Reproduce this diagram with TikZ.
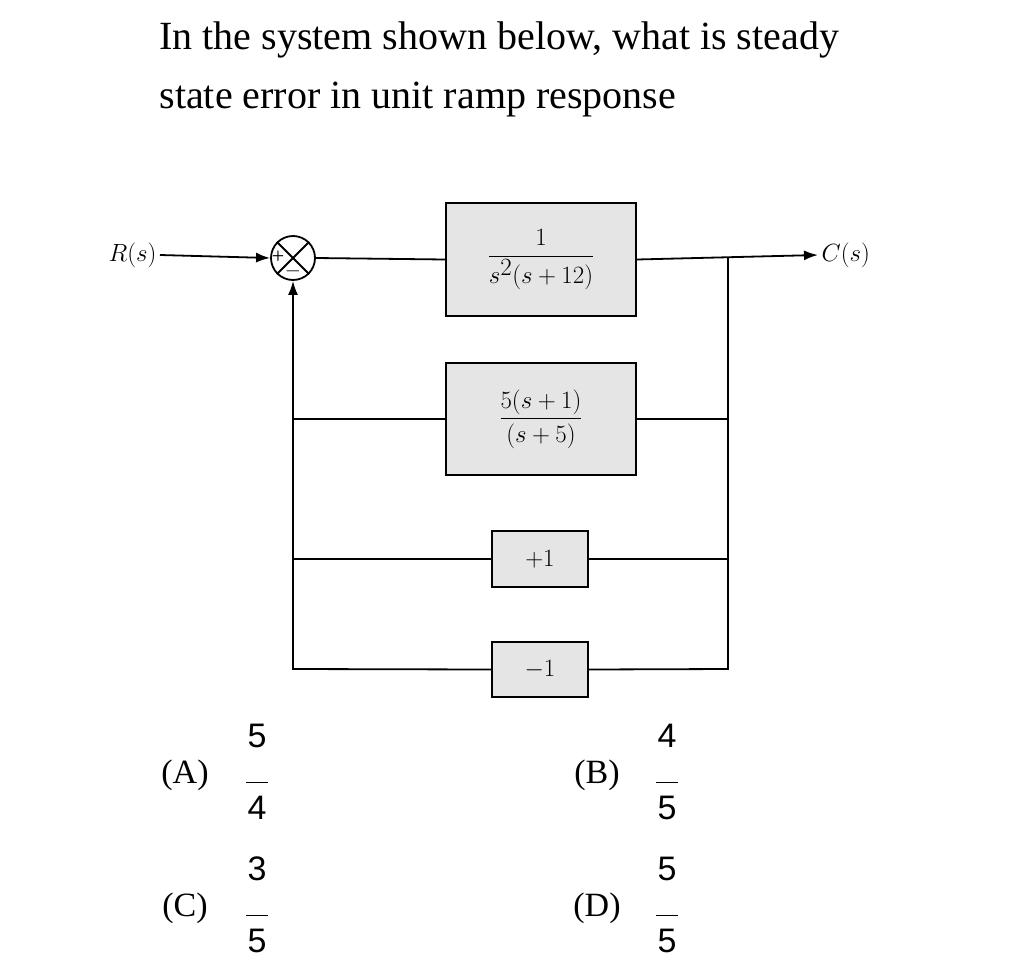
\documentclass[tikz,border=0pt]{standalone}
\usepackage{amsmath}
\usepackage{fontspec}
\usetikzlibrary{arrows.meta}
\setmainfont{Liberation Serif}
\newfontfamily\ansfont{Liberation Sans}
\newcommand{\myfr}[2]{{\ansfont\begin{tabular}{@{}c@{}}#1\\[-4pt]\rule{22pt}{1.5pt}\\[-4pt]#2\end{tabular}}}
\begin{document}
\begin{tikzpicture}[x=1pt,y=-1pt,
  blk/.style={draw,line width=1.8pt,fill=gray!20,inner sep=0pt},
  ln/.style={line width=1.8pt},
  arr/.style={line width=1.8pt,-{Latex[length=14pt,width=10pt]}},
  every node/.style={font=\fontsize{34}{40}\selectfont}]
\useasboundingbox (0,0) rectangle (1024,974);
\node[anchor=west,font=\fontsize{40}{46}\selectfont] (t1) at (156,40) {In the system shown below, what is steady};
\node[anchor=west,font=\fontsize{40}{46}\selectfont] (t2) at (156,100) {state error in unit ramp response};
% junction
\node[draw,circle,line width=1.8pt,minimum size=44pt,inner sep=0pt] (sum) at (293,258) {};
\draw[ln] (sum.north west) -- (sum.south east) (sum.north east) -- (sum.south west);
\node[font=\fontsize{22}{22}\selectfont,inner sep=0pt] (pl) at (278,257) {+};
\node[font=\fontsize{22}{22}\selectfont,inner sep=0pt] (mi) at (293,271) {$-$};
\node[anchor=east] (R) at (160,255) {$R(s)$};
\draw[arr] (R.east) -- (sum.west);
% blocks
\node[blk,minimum width=190pt,minimum height=113pt] (b1) at (541,259.5) {$\dfrac{1}{s^2(s+12)}$};
\node[blk,minimum width=190pt,minimum height=112pt] (b2) at (541,419) {$\dfrac{5(s+1)}{(s+5)}$};
\node[blk,minimum width=96pt,minimum height=56pt] (b3) at (540,559) {$+1$};
\node[blk,minimum width=96pt,minimum height=55pt] (b4) at (540,669.5) {$-1$};
\coordinate (jt) at (728,258);
\coordinate (jb) at (728,669);
\coordinate (lb) at (293,669);
\node[anchor=west] (C) at (818,255) {$C(s)$};
\draw[ln] (sum.east) -- (b1.west);
\draw[arr] (b1.east) -- (C.west);
\draw[ln] (jt) -- (jb) -- (b4.east);
\draw[arr] (b4.west) -- (lb) -- (sum.south);
\draw[ln] (b2.west -| lb) -- (b2.west) (b2.east) -- (b2.east -| jt);
\draw[ln] (b3.west -| lb) -- (b3.west) (b3.east) -- (b3.east -| jt);
% answers
\node (A) at (185,775) {(A)};
\node (fa) at (257,775) {\myfr{5}{4}};
\node (B) at (597,775) {(B)};
\node (fb) at (667,775) {\myfr{4}{5}};
\node (Cc) at (185,908) {(C)};
\node (fc) at (257,908) {\myfr{3}{5}};
\node (D) at (597,908) {(D)};
\node (fd) at (667,908) {\myfr{5}{5}};
\end{tikzpicture}
\end{document}
